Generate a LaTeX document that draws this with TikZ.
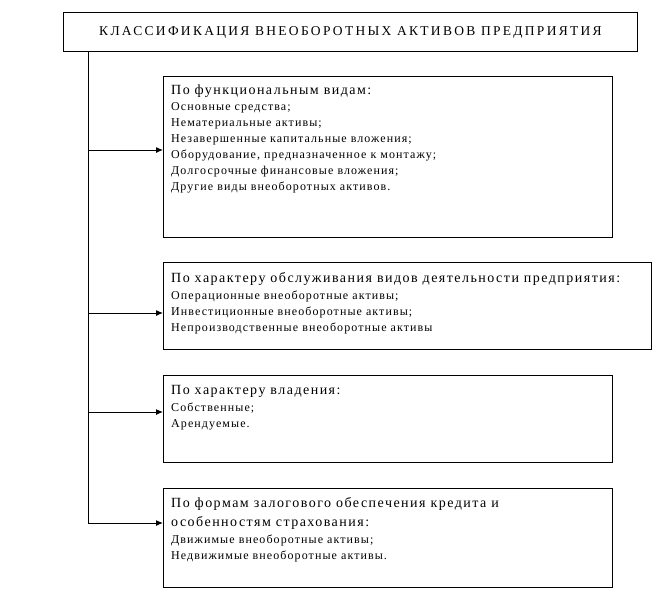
\documentclass[tikz,border=0pt]{standalone}
\usepackage{fontspec}
\setmainfont{Liberation Serif}
\newfontfamily\titlefnt[LetterSpace=17]{Liberation Serif}
\newfontfamily\headfnt[LetterSpace=10.5]{Liberation Serif}
\newfontfamily\itemfnt[LetterSpace=9]{Liberation Serif}
\usetikzlibrary{arrows.meta}
\tikzset{
  x=1pt, y=-1pt,
  frame/.style={draw, line width=1pt, rectangle, inner sep=0pt, anchor=north west},
  txt/.style={anchor=north west, inner sep=0pt, align=left, font=\itemfnt\fontsize{12}{16}\selectfont},
  conn/.style={line width=1pt},
  arr/.style={line width=1pt, -{Latex[length=7pt,width=6pt]}},
}
\newcommand{\hd}[1]{{\headfnt\fontsize{14}{16}\selectfont #1}}
\begin{document}
\begin{tikzpicture}
\useasboundingbox (0,0) rectangle (663,613);
\node[frame, minimum width=574pt, minimum height=39pt,
      font=\titlefnt\fontsize{13.5}{15}\selectfont] (title) at (63,12)
  {КЛАССИФИКАЦИЯ ВНЕОБОРОТНЫХ АКТИВОВ ПРЕДПРИЯТИЯ};

\node[frame, minimum width=449pt, minimum height=161pt] (b1) at (163,76) {};
\node[frame, minimum width=488pt, minimum height=87pt] (b2) at (163,262) {};
\node[frame, minimum width=449pt, minimum height=87pt] (b3) at (163,375) {};
\node[frame, minimum width=449pt, minimum height=99pt] (b4) at (163,488) {};

\node[txt] (t1) at (171,85) {\hd{По функциональным видам:}\\
  Основные средства;\\
  Нематериальные активы;\\
  Незавершенные капитальные вложения;\\
  Оборудование, предназначенное к монтажу;\\
  Долгосрочные финансовые вложения;\\
  Другие виды внеоборотных активов.};

\node[txt] (t2) at (171,272) {\hd{По характеру обслуживания видов деятельности предприятия:}\\[1pt]
  Операционные внеоборотные активы;\\
  Инвестиционные внеоборотные активы;\\
  Непроизводственные внеоборотные активы};

\node[txt] (t3) at (171,385) {\hd{По характеру владения:}\\[1pt]
  Собственные;\\
  Арендуемые.};

\node[txt] (t4) at (171,497) {\hd{По формам залогового обеспечения кредита и}\\[3pt]
  \hd{особенностям страхования:}\\[1pt]
  Движимые внеоборотные активы;\\
  Недвижимые внеоборотные активы.};

\coordinate (top) at (88,51);
\coordinate (j1) at (88,150);
\coordinate (j2) at (88,313);
\coordinate (j3) at (88,412);
\coordinate (j4) at (88,523);
\draw[conn] (top) -- (j4);
\draw[arr] (j1) -- (j1 -| b1.west);
\draw[arr] (j2) -- (j2 -| b2.west);
\draw[arr] (j3) -- (j3 -| b3.west);
\draw[arr] (j4) -- (j4 -| b4.west);
\end{tikzpicture}
\end{document}
